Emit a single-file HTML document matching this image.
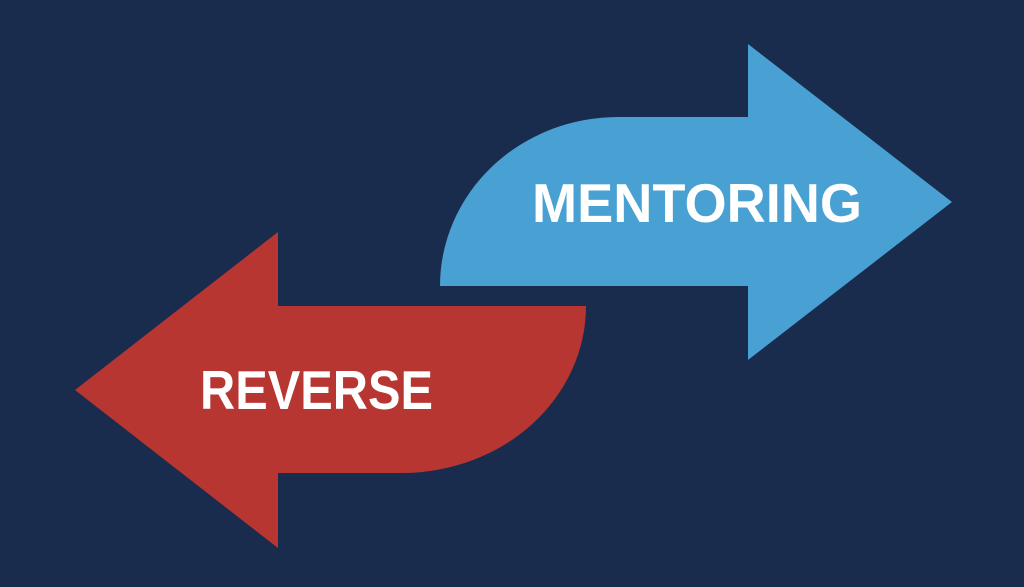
<!DOCTYPE html>
<html><head><style>
html,body{margin:0;padding:0;background:#1a2c4d;}
svg{display:block}
</style></head><body>
<svg width="1024" height="587" viewBox="0 0 1024 587" xmlns="http://www.w3.org/2000/svg">
<rect width="1024" height="587" fill="#1a2c4d"/>
<path d="M440,286 A178,169 0 0 1 618,117 L748,117 L748,44 L952,202 L748,360 L748,286 Z" fill="#48a1d2"/>
<path d="M586,306 A184,167 0 0 1 402,473 L278,473 L278,548 L75,390 L278,232 L278,306 Z" fill="#b83632"/>
<text x="532" y="222" font-family="Liberation Sans, sans-serif" font-weight="bold" font-size="55" fill="#fff" textLength="330" lengthAdjust="spacingAndGlyphs">MENTORING</text>
<text x="200" y="409" font-family="Liberation Sans, sans-serif" font-weight="bold" font-size="55" fill="#fff" textLength="233" lengthAdjust="spacingAndGlyphs">REVERSE</text>
</svg>
</body></html>
